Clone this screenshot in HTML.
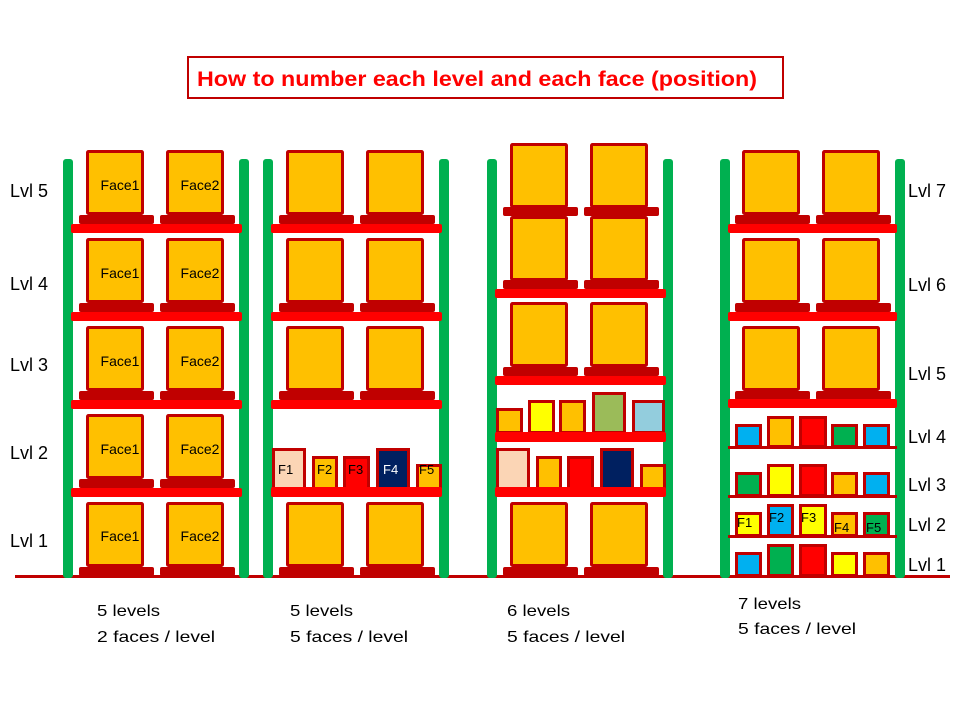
<!DOCTYPE html>
<html><head><meta charset="utf-8"><style>html,body{margin:0;padding:0;background:#fff}svg{display:block}</style></head>
<body>
<svg width="960" height="720" viewBox="0 0 960 720" xmlns="http://www.w3.org/2000/svg" font-family="Liberation Sans, sans-serif">
<defs>
<g id="big"><rect x="1.5" y="1.5" width="55" height="62" fill="#FFC000" stroke="#C00000" stroke-width="3" rx="1"/></g>
<g id="pal"><rect x="0" y="0" width="75" height="9" rx="2" fill="#C00000"/></g>
</defs>
<rect x="188" y="57" width="595" height="41" fill="#fff" stroke="#C00000" stroke-width="2"/>
<text x="197" y="86" font-size="21" font-weight="bold" fill="#FF0000" textLength="560" lengthAdjust="spacingAndGlyphs">How to number each level and each face (position)</text>

<rect x="15" y="575" width="935" height="3" fill="#C00000"/>

<g fill="#00B050">
<rect x="63" y="159" width="10" height="419" rx="3"/><rect x="239" y="159" width="10" height="419" rx="3"/>
<rect x="263" y="159" width="10" height="419" rx="3"/><rect x="439" y="159" width="10" height="419" rx="3"/>
<rect x="487" y="159" width="10" height="419" rx="3"/><rect x="663" y="159" width="10" height="419" rx="3"/>
<rect x="720" y="159" width="10" height="419" rx="3"/><rect x="895" y="159" width="10" height="419" rx="3"/>
</g>

<g>
<use href="#big" x="86" y="150"/><use href="#big" x="166" y="150"/><use href="#pal" x="79" y="215"/><use href="#pal" x="160" y="215"/><rect x="71" y="224" width="171" height="9" rx="2" fill="#FF0000"/>
<use href="#big" x="86" y="238"/><use href="#big" x="166" y="238"/><use href="#pal" x="79" y="303"/><use href="#pal" x="160" y="303"/><rect x="71" y="312" width="171" height="9" rx="2" fill="#FF0000"/>
<use href="#big" x="86" y="326"/><use href="#big" x="166" y="326"/><use href="#pal" x="79" y="391"/><use href="#pal" x="160" y="391"/><rect x="71" y="400" width="171" height="9" rx="2" fill="#FF0000"/>
<use href="#big" x="86" y="414"/><use href="#big" x="166" y="414"/><use href="#pal" x="79" y="479"/><use href="#pal" x="160" y="479"/><rect x="71" y="488" width="171" height="9" rx="2" fill="#FF0000"/>
<use href="#big" x="86" y="502"/><use href="#big" x="166" y="502"/><use href="#pal" x="79" y="567"/><use href="#pal" x="160" y="567"/>
<g font-size="14" fill="#000" text-anchor="middle">
<text x="120" y="190">Face1</text><text x="200" y="190">Face2</text>
<text x="120" y="278">Face1</text><text x="200" y="278">Face2</text>
<text x="120" y="366">Face1</text><text x="200" y="366">Face2</text>
<text x="120" y="454">Face1</text><text x="200" y="454">Face2</text>
<text x="120" y="541">Face1</text><text x="200" y="541">Face2</text>
</g>
</g>

<g>
<use href="#big" x="286" y="150"/><use href="#big" x="366" y="150"/><use href="#pal" x="279" y="215"/><use href="#pal" x="360" y="215"/><rect x="271" y="224" width="171" height="9" rx="2" fill="#FF0000"/>
<use href="#big" x="286" y="238"/><use href="#big" x="366" y="238"/><use href="#pal" x="279" y="303"/><use href="#pal" x="360" y="303"/><rect x="271" y="312" width="171" height="9" rx="2" fill="#FF0000"/>
<use href="#big" x="286" y="326"/><use href="#big" x="366" y="326"/><use href="#pal" x="279" y="391"/><use href="#pal" x="360" y="391"/><rect x="271" y="400" width="171" height="9" rx="2" fill="#FF0000"/>
<g stroke="#C00000" stroke-width="3">
<rect x="273.5" y="449.5" width="31" height="39" fill="#FBD5B5"/>
<rect x="313.5" y="457.5" width="23" height="31" fill="#FFC000"/>
<rect x="344.5" y="457.5" width="24" height="31" fill="#FF0000"/>
<rect x="377.5" y="449.5" width="31" height="39" fill="#002060"/>
<rect x="417.5" y="465.5" width="23" height="23" fill="#FFC000"/>
</g>
<rect x="271" y="487" width="171" height="10" rx="2" fill="#FF0000"/>
<use href="#big" x="286" y="502"/><use href="#big" x="366" y="502"/><use href="#pal" x="279" y="567"/><use href="#pal" x="360" y="567"/>
<g font-size="13">
<text x="278" y="474">F1</text><text x="317" y="474">F2</text><text x="348" y="474" fill="#000">F3</text><text x="383" y="474" fill="#fff">F4</text><text x="419" y="474">F5</text>
</g>
</g>

<g>
<use href="#big" x="510" y="143"/><use href="#big" x="590" y="143"/><use href="#pal" x="503" y="207"/><use href="#pal" x="584" y="207"/>
<use href="#big" x="510" y="216"/><use href="#big" x="590" y="216"/><use href="#pal" x="503" y="280"/><use href="#pal" x="584" y="280"/>
<rect x="495" y="289" width="171" height="9" rx="2" fill="#FF0000"/>
<use href="#big" x="510" y="302"/><use href="#big" x="590" y="302"/><use href="#pal" x="503" y="367"/><use href="#pal" x="584" y="367"/>
<rect x="495" y="376" width="171" height="9" rx="2" fill="#FF0000"/>
<g stroke="#C00000" stroke-width="3">
<rect x="497.5" y="409.5" width="24" height="23" fill="#FFC000"/>
<rect x="529.5" y="401.5" width="24" height="31" fill="#FFFF00"/>
<rect x="560.5" y="401.5" width="24" height="31" fill="#FFC000"/>
<rect x="593.5" y="393.5" width="31" height="39" fill="#9BBB59"/>
<rect x="633.5" y="401.5" width="30" height="31" fill="#93CDDD"/>
</g>
<rect x="495" y="432" width="171" height="10" rx="2" fill="#FF0000"/>
<g stroke="#C00000" stroke-width="3">
<rect x="497.5" y="449.5" width="31" height="39" fill="#FBD5B5"/>
<rect x="537.5" y="457.5" width="23" height="31" fill="#FFC000"/>
<rect x="568.5" y="457.5" width="24" height="31" fill="#FF0000"/>
<rect x="601.5" y="449.5" width="31" height="39" fill="#002060"/>
<rect x="641.5" y="465.5" width="23" height="23" fill="#FFC000"/>
</g>
<rect x="495" y="487" width="171" height="10" rx="2" fill="#FF0000"/>
<use href="#big" x="510" y="502"/><use href="#big" x="590" y="502"/><use href="#pal" x="503" y="567"/><use href="#pal" x="584" y="567"/>
</g>

<g>
<use href="#big" x="742" y="150"/><use href="#big" x="822" y="150"/><use href="#pal" x="735" y="215"/><use href="#pal" x="816" y="215"/><rect x="728" y="224" width="169" height="9" rx="2" fill="#FF0000"/>
<use href="#big" x="742" y="238"/><use href="#big" x="822" y="238"/><use href="#pal" x="735" y="303"/><use href="#pal" x="816" y="303"/><rect x="728" y="312" width="169" height="9" rx="2" fill="#FF0000"/>
<use href="#big" x="742" y="326"/><use href="#big" x="822" y="326"/><use href="#pal" x="735" y="391"/><use href="#pal" x="816" y="391"/><rect x="728" y="399" width="169" height="9" rx="2" fill="#FF0000"/>
<g fill="#C00000">
<rect x="728" y="446" width="169" height="3"/><rect x="728" y="495" width="169" height="3"/><rect x="728" y="535" width="169" height="3"/>
</g>
<g stroke="#C00000" stroke-width="3">
<rect x="736.5" y="425.5" width="24" height="21" fill="#00B0F0"/>
<rect x="768.5" y="417.5" width="24" height="29" fill="#FFC000"/>
<rect x="800.5" y="417.5" width="25" height="29" fill="#FF0000"/>
<rect x="832.5" y="425.5" width="24" height="21" fill="#00B050"/>
<rect x="864.5" y="425.5" width="24" height="21" fill="#00B0F0"/>

<rect x="736.5" y="473.5" width="24" height="22" fill="#00B050"/>
<rect x="768.5" y="465.5" width="24" height="30" fill="#FFFF00"/>
<rect x="800.5" y="465.5" width="25" height="30" fill="#FF0000"/>
<rect x="832.5" y="473.5" width="24" height="22" fill="#FFC000"/>
<rect x="864.5" y="473.5" width="24" height="22" fill="#00B0F0"/>

<rect x="736.5" y="513.5" width="24" height="22" fill="#FFFF00"/>
<rect x="768.5" y="505.5" width="24" height="30" fill="#00B0F0"/>
<rect x="800.5" y="505.5" width="25" height="30" fill="#FFFF00"/>
<rect x="832.5" y="513.5" width="24" height="22" fill="#FFC000"/>
<rect x="864.5" y="513.5" width="24" height="22" fill="#00B050"/>

<rect x="736.5" y="553.5" width="24" height="22" fill="#00B0F0"/>
<rect x="768.5" y="545.5" width="24" height="30" fill="#00B050"/>
<rect x="800.5" y="545.5" width="25" height="30" fill="#FF0000"/>
<rect x="832.5" y="553.5" width="24" height="22" fill="#FFFF00"/>
<rect x="864.5" y="553.5" width="24" height="22" fill="#FFC000"/>
</g>
<g font-size="13">
<text x="737" y="527">F1</text><text x="769" y="522">F2</text><text x="801" y="522">F3</text><text x="834" y="532">F4</text><text x="866" y="532">F5</text>
</g>
</g>

<g font-size="18" fill="#000">
<text x="10" y="197">Lvl 5</text>
<text x="10" y="290">Lvl 4</text>
<text x="10" y="371">Lvl 3</text>
<text x="10" y="459">Lvl 2</text>
<text x="10" y="547">Lvl 1</text>
<text x="908" y="197">Lvl 7</text>
<text x="908" y="291">Lvl 6</text>
<text x="908" y="380">Lvl 5</text>
<text x="908" y="443">Lvl 4</text>
<text x="908" y="491">Lvl 3</text>
<text x="908" y="531">Lvl 2</text>
<text x="908" y="571">Lvl 1</text>
</g>

<g font-size="16" fill="#000">
<text x="97" y="616" textLength="63" lengthAdjust="spacingAndGlyphs">5 levels</text>
<text x="97" y="642" textLength="118" lengthAdjust="spacingAndGlyphs">2 faces / level</text>
<text x="290" y="616" textLength="63" lengthAdjust="spacingAndGlyphs">5 levels</text>
<text x="290" y="642" textLength="118" lengthAdjust="spacingAndGlyphs">5 faces / level</text>
<text x="507" y="616" textLength="63" lengthAdjust="spacingAndGlyphs">6 levels</text>
<text x="507" y="642" textLength="118" lengthAdjust="spacingAndGlyphs">5 faces / level</text>
<text x="738" y="609" textLength="63" lengthAdjust="spacingAndGlyphs">7 levels</text>
<text x="738" y="634" textLength="118" lengthAdjust="spacingAndGlyphs">5 faces / level</text>
</g>
</svg>
</body></html>
